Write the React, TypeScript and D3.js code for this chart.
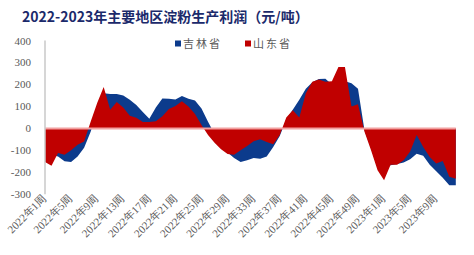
import React from "react";
import * as d3 from "d3";

const weeks: string[] = [];
for (let i = 1; i <= 52; i++) weeks.push(`2022年${i}周`);
for (let i = 1; i <= 12; i++) weeks.push(`2023年${i}周`);

const jilin = [
  -140, -120, -128, -150, -153, -128, -88, -15, 80, 160,
  157, 157, 150, 130, 107, 75, 44, 95, 136, 135,
  131, 147, 135, 127, 90, 30, -25, -70, -110, -135,
  -153, -145, -135, -138, -128, -85, -35, 40, 85, 130,
  180, 210, 225, 226, 200, 215, 215, 205, 180, -10,
  -90, -180, -175, -168, -162, -155, -140, -115, -125, -165,
  -195, -225, -259, -259,
];

const shandong = [
  -153, -170, -112, -120, -100, -75, -60, 30, 115, 188,
  85, 120, 95, 57, 48, 29, 29, 32, 55, 88,
  102, 123, 100, 65, 15, -30, -65, -95, -117, -120,
  -100, -80, -58, -50, -62, -72, -30, 50, 82, 50,
  160, 212, 222, 212, 215, 279, 279, 100, 110, -15,
  -100, -190, -236, -165, -165, -145, -105, -30, -85, -130,
  -160, -148, -220, -229,
];

const yTicks = [400, 300, 200, 100, 0, -100, -200, -300];
const seriesNames = ["吉林省", "山东省"];
const colors = ["#0c3b8c", "#c00000"];

export default function App() {
  const W = 474, H = 255;
  const left = 45, right = 455.8, top = 40.5, bottom = 194.3;
  const x = d3.scaleLinear().domain([0, weeks.length - 1]).range([left, right]);
  const y = d3.scaleLinear().domain([-300, 400]).range([bottom, top]);
  const area = d3
    .area<number>()
    .x((_, i) => x(i))
    .y0(y(0))
    .y1((d) => y(d));
  const labelIdx = weeks.map((_, i) => i).filter((i) => i % 4 === 0);
  return (
    <svg
      width={W}
      height={H}
      style={{ position: "fixed", left: 0, top: 0, background: "#fff" }}
    >
      <rect width={W} height={H} fill="#fff" />
      <text
        x={22}
        y={22}
        fontFamily="'Noto Sans CJK SC', sans-serif"
        fontWeight="bold"
        fontSize={14}
        fill="#1b2a6b"
      >
        2022-2023年主要地区淀粉生产利润（元/吨）
      </text>
      {/* legend */}
      <rect x={175} y={40.5} width={6} height={6} fill={colors[0]} />
      <text
        x={183}
        y={48}
        fontFamily="'Noto Sans CJK SC', sans-serif"
        fontSize={11}
        letterSpacing={2}
        fill="#595959"
      >
        {seriesNames[0]}
      </text>
      <rect x={245} y={40.5} width={6} height={6} fill={colors[1]} />
      <text
        x={253}
        y={48}
        fontFamily="'Noto Sans CJK SC', sans-serif"
        fontSize={11}
        letterSpacing={2}
        fill="#595959"
      >
        {seriesNames[1]}
      </text>
      {/* y labels */}
      {yTicks.map((t) => (
        <text
          key={t}
          x={31}
          y={y(t) + 4}
          textAnchor="end"
          fontFamily="'Liberation Serif', serif"
          fontSize={11}
          fill="#595959"
        >
          {t}
        </text>
      ))}
      <path d={area(jilin) || ""} fill={colors[0]} />
      <path d={area(shandong) || ""} fill={colors[1]} />
      <line x1={left} x2={right} y1={y(0)} y2={y(0)} stroke="#f2a0a0" strokeWidth={2} />
      <line x1={left} x2={left} y1={top} y2={bottom} stroke="#c8c8c8" strokeWidth={1.5} />
      {labelIdx.map((i) => (
        <text
          key={i}
          transform={`translate(${x(i) + 2},${199}) rotate(-45)`}
          textAnchor="end"
          fontFamily="'Liberation Serif', serif"
          fontSize={11}
          fill="#595959"
        >
          {weeks[i]}
        </text>
      ))}
    </svg>
  );
}
